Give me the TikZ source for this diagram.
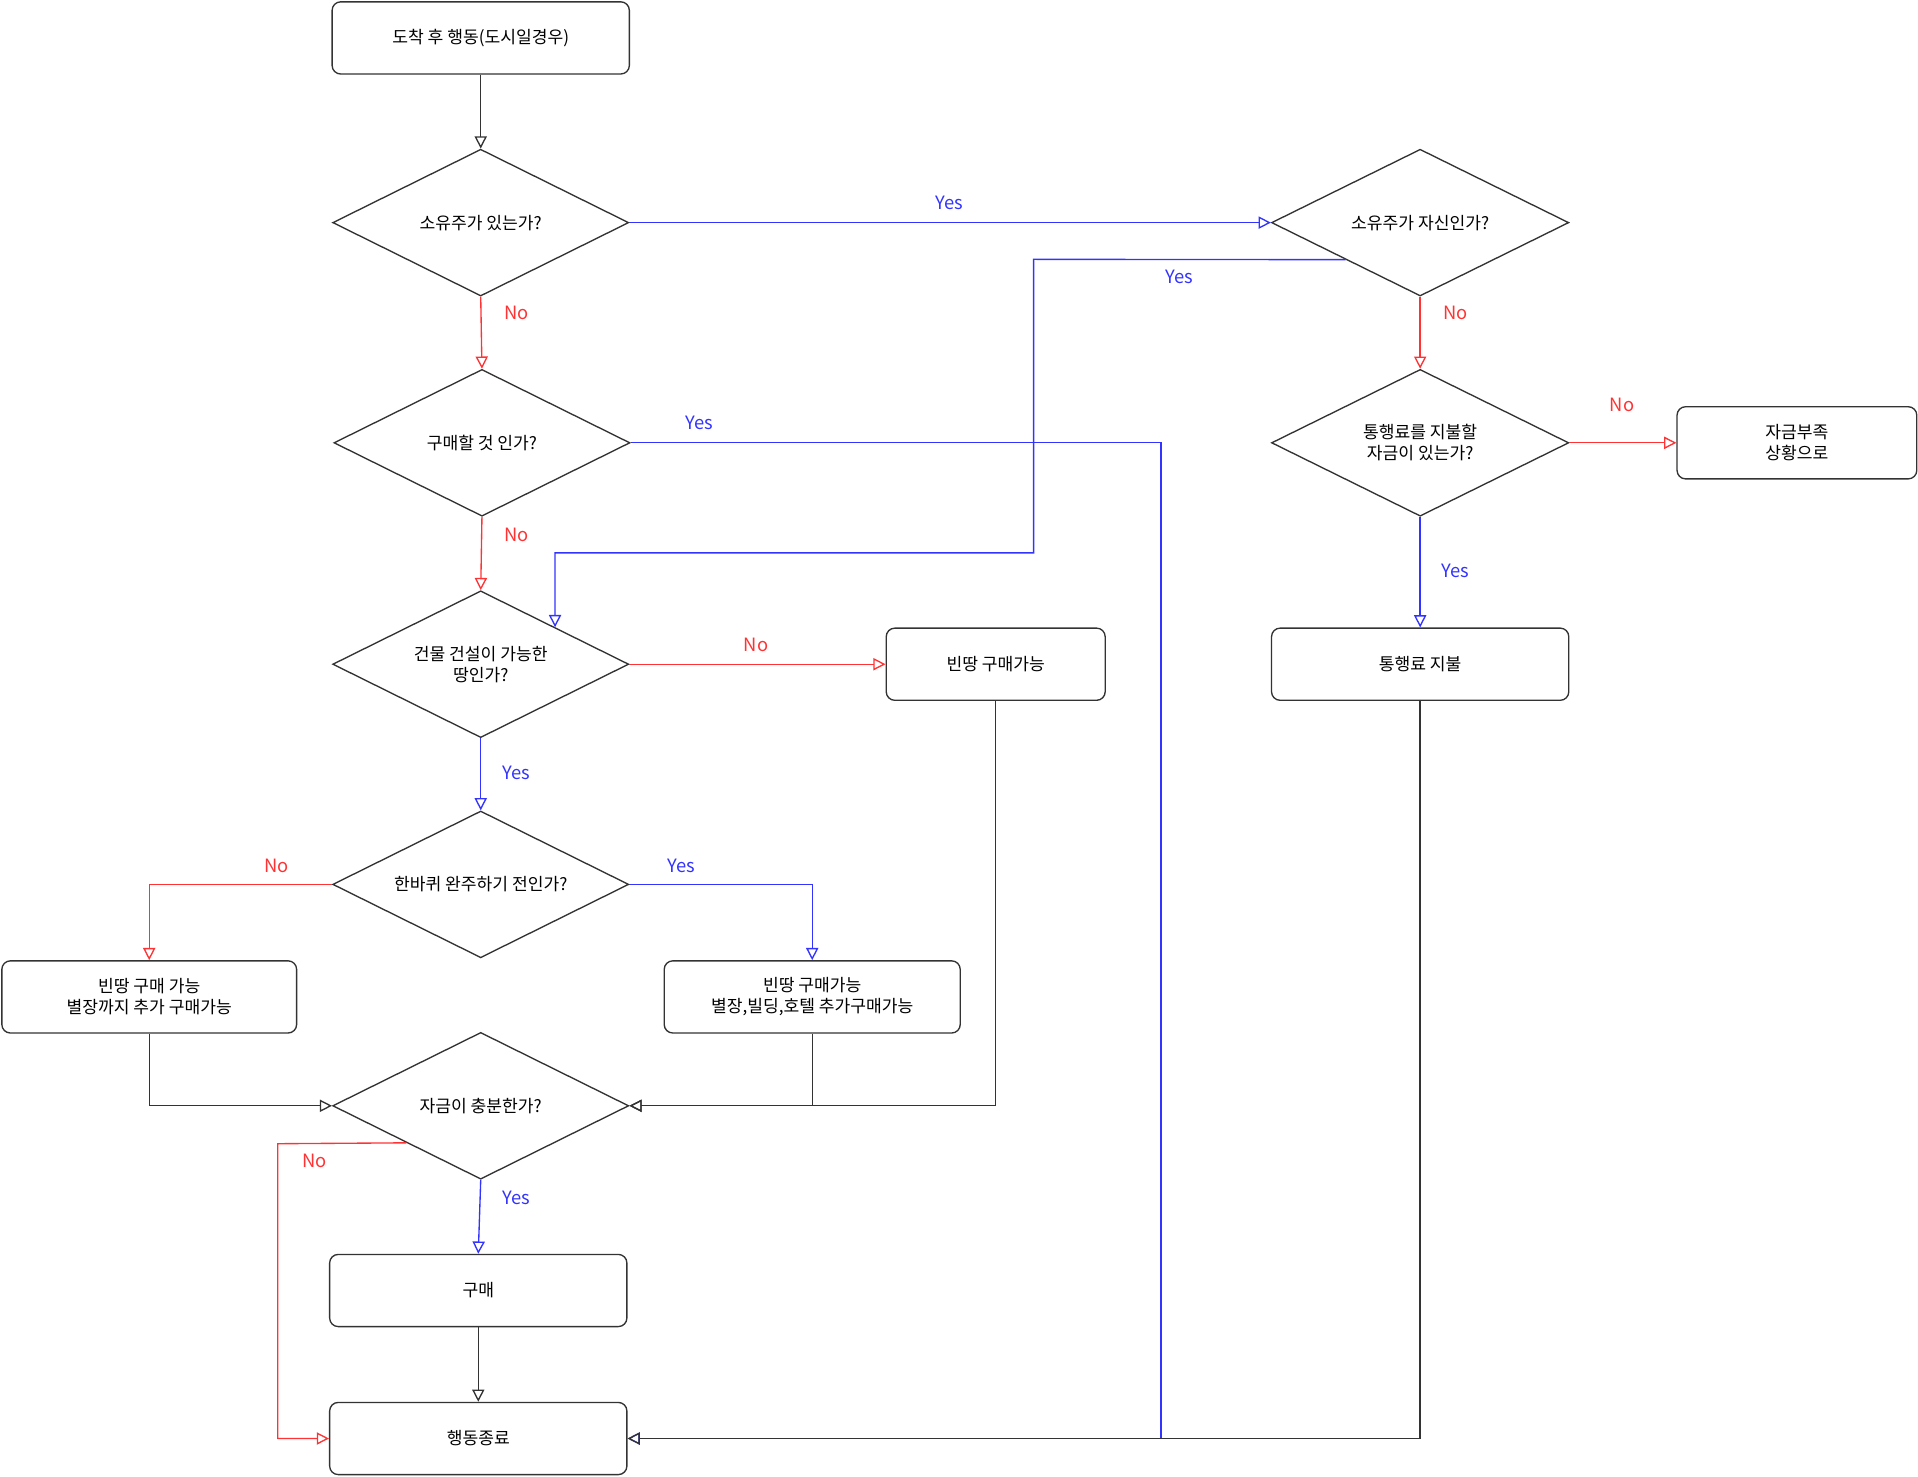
\documentclass[tikz,border=0pt]{standalone}
\usepackage{fontspec}
\setmainfont{Noto Sans CJK KR}
\usetikzlibrary{shapes.geometric,arrows.meta,calc}
\definecolor{cb}{HTML}{3333FF}
\definecolor{cr}{HTML}{FF3333}
\begin{document}
\begin{tikzpicture}[x=1pt,y=-1pt,
  font=\fontsize{14}{17}\selectfont,
  box/.style={draw=black!80,line width=1.1pt,rounded corners=7pt,minimum width=242pt,minimum height=59pt,align=center,inner sep=2pt},
  dia/.style={draw=black!80,line width=1.1pt,diamond,minimum width=242pt,minimum height=120pt,inner sep=0pt},
  ar/.style={line width=1.1pt,-{Triangle[open,length=10pt,width=10pt]}},
  bl/.style={ar,draw=cb},
  rd/.style={ar,draw=cr},
  bk/.style={ar,draw=black!80},
  ly/.style={text=cb,font=\fontsize{15}{17}\selectfont},
  ln/.style={text=cr,font=\fontsize{15}{17}\selectfont}]
\useasboundingbox (0,0) rectangle (1568,1207);
\node[box,minimum width=243pt] (s) at (393,31) {도착 후 행동(도시일경우)};
\node[dia,label={[align=center]center:소유주가 있는가?}] (d1) at (393,182) {};
\node[dia,label={[align=center]center:구매할 것 인가?}] (d2) at (394,362) {};
\node[dia,label={[align=center]center:건물 건설이 가능한\\땅인가?}] (d3) at (393,543) {};
\node[dia,label={[align=center]center:한바퀴 완주하기 전인가?}] (d4) at (393,723) {};
\node[box,minimum width=179pt] (b1) at (814,543) {빈땅 구매가능};
\node[box,minimum width=241pt] (bl) at (122,815) {빈땅 구매 가능\\별장까지 추가 구매가능};
\node[box] (br) at (664,815) {빈땅 구매가능\\별장,빌딩,호텔 추가구매가능};
\node[dia,label={[align=center]center:자금이 충분한가?}] (d5) at (393,904) {};
\node[box,minimum width=243pt] (buy) at (391,1055) {구매};
\node[box,minimum width=243pt] (end) at (391,1176) {행동종료};
\node[dia,minimum width=243pt,label={[align=center]center:소유주가 자신인가?}] (d6) at (1161,182) {};
\node[dia,minimum width=243pt,label={[align=center]center:통행료를 지불할\\자금이 있는가?}] (d7) at (1161,362) {};
\node[box,minimum width=196pt] (lack) at (1469,362) {자금부족\\상황으로};
\node[box,minimum width=243pt] (toll) at (1161,543) {통행료 지불};

\draw[bk] (s) -- (d1);
\draw[bl] (d1.east) -- (d6.west);
\node[ly] at (776,166) {Yes};
\draw[rd] (d1.south) -- (d2.north);
\node[ln] at (422,256) {No};
\draw[rd] (d2.south) -- (d3.north);
\node[ln] at (422,437) {No};
\draw[bl] (d2.east) -- (949,362) -- (949,1176) -- (end.east);
\node[ly] at (572,346) {Yes};
\draw[rd] (d6.south) -- (d7.north);
\node[ln] at (1190,256) {No};
\coordinate (c6) at ($(d6.west)!0.5!(d6.south)$);
\coordinate (c3) at ($(d3.north)!0.5!(d3.east)$);
\draw[bl] (c6) -- (845,212) -- (845,452) -- (c3|-0,452) -- (c3);
\node[ly] at (964,226) {Yes};
\draw[rd] (d7.east) -- (lack.west);
\node[ln] at (1326,331) {No};
\draw[bl] (d7.south) -- (toll.north);
\node[ly] at (1190,467) {Yes};
\draw[bk] (toll.south) -- (1161,1176) -- (end.east);
\draw[rd] (d3.east) -- (b1.west);
\node[ln] at (618,527) {No};
\draw[bl] (d3.south) -- (d4.north);
\node[ly] at (422,632) {Yes};
\draw[rd] (d4.west) -| (bl.north);
\node[ln] at (226,708) {No};
\draw[bl] (d4.east) -| (br.north);
\node[ly] at (557,708) {Yes};
\draw[bk] (bl.south) |- (d5.west);
\draw[bk] (br.south) |- (d5.east);
\draw[bk] (b1.south) |- (d5.east);
\draw[bl] (d5.south) -- (buy.north);
\node[ly] at (422,979) {Yes};
\coordinate (c5) at ($(d5.west)!0.5!(d5.south)$);
\draw[rd] (c5) -- (227,935) -- (227,1176) -- (end.west);
\node[ln] at (257,949) {No};
\draw[bk] (buy) -- (end);
\end{tikzpicture}
\end{document}
